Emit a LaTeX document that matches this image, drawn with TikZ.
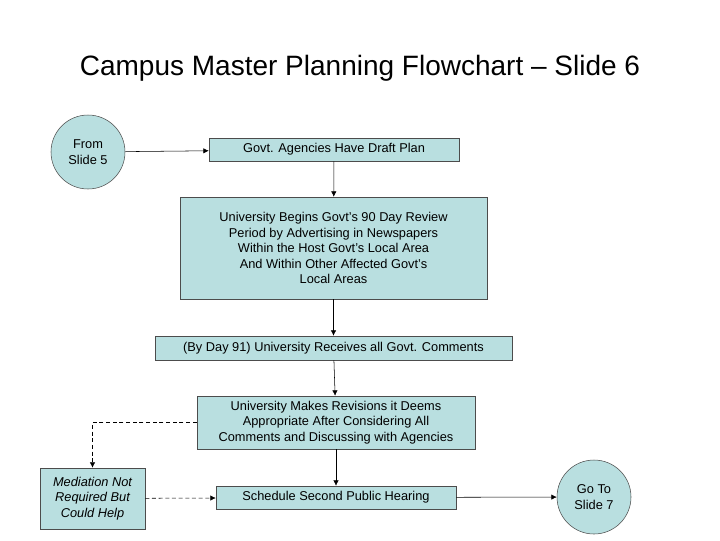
\documentclass[tikz,border=0pt]{standalone}
\usepackage{fontspec}
\setmainfont{Liberation Sans}
\usetikzlibrary{positioning,arrows.meta}
\definecolor{boxfill}{HTML}{B9DFE0}
\tikzset{
	stage/.style={draw=black!70, fill=boxfill, align=center, font=\fontsize{9.6}{11.6}\selectfont, inner sep=0pt},
	joint/.style={circle, draw=black!70, fill=boxfill, align=center, minimum size=55.5pt, inner sep=0pt, font=\fontsize{9.6}{11.6}\selectfont},
	flow/.style={-{Latex[length=4pt,width=4pt]}, thin},
	side/.style={flow, densely dashed}
}
\begin{document}
\begin{tikzpicture}[x=0.75pt,y=-0.75pt]
	\useasboundingbox (0,0) rectangle (720,540);
	\node at (360,68) {\fontsize{21}{25}\selectfont Campus Master Planning Flowchart -- Slide 6};

	\node[joint] (from) at (88,152) {From\\Slide 5};
	\node[stage, minimum width=187.5pt, minimum height=17.25pt] (draft) at (334,149.5) {Govt. Agencies Have Draft Plan};
	\node[stage, minimum width=230.25pt, minimum height=76.5pt] (review) at (333.5,248) {University Begins Govt’s 90 Day Review\\Period by Advertising in Newspapers\\Within the Host Govt’s Local Area\\And Within Other Affected Govt’s\\Local Areas};
	\node[stage, minimum width=267.75pt, minimum height=18pt] (comments) at (333.5,348) {(By Day 91) University Receives all Govt. Comments};
	\node[stage, minimum width=208.5pt, minimum height=39.75pt] (revise) at (336,422.5) {University Makes Revisions it Deems\\Appropriate After Considering All\\Comments and Discussing with Agencies};
	\node[stage, minimum width=78.75pt, minimum height=45.75pt, font=\fontsize{9.6}{11.6}\selectfont\itshape] (mediate) at (92.5,498.5) {Mediation Not\\Required But\\Could Help};
	\node[stage, minimum width=180pt, minimum height=17.25pt] (hearing) at (336,497.5) {Schedule Second Public Hearing};
	\node[joint] (goto) at (594,497) {Go To\\Slide 7};

	\draw[flow] (from) -- (draft);
	\draw[flow] (draft) -- (review);
	\draw[flow] (review) -- (comments);
	\draw[flow] (comments) -- (revise);
	\draw[flow] (revise) -- (hearing);
	\draw[flow] (hearing) -- (goto);
	\draw[side] (revise.west) -| (mediate.north);
	\draw[side] (mediate) -- (hearing);
\end{tikzpicture}
\end{document}
